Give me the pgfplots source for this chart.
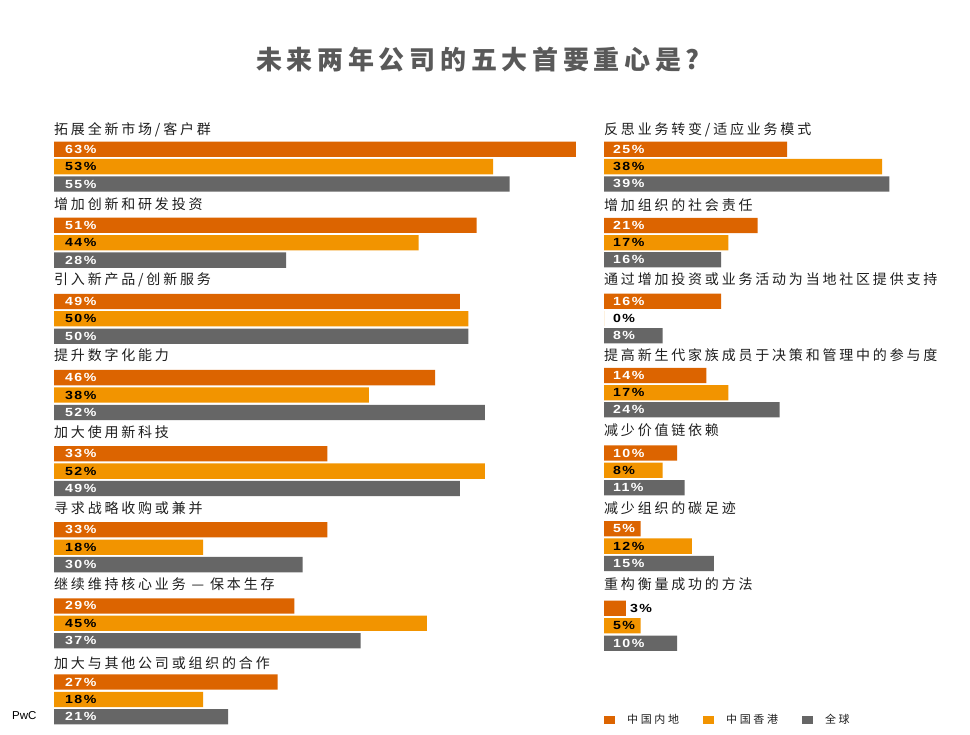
\documentclass[border=0pt]{standalone}
\usepackage{fontspec}
\usepackage{pgfplots}
\usepackage{pgfplotstable}
\pgfplotsset{compat=1.18}
\setmainfont{Liberation Sans}
\newfontfamily\cjk[LetterSpace=20]{Noto Sans CJK SC}
\newfontfamily\cjklegend[LetterSpace=24]{Noto Sans CJK SC}
\newfontfamily\cjktitle[LetterSpace=18]{Noto Sans CJK SC}
\newfontfamily\pct[FakeStretch=1.2,LetterSpace=12]{Liberation Sans}

\definecolor{cMain}{RGB}{220,100,0}
\definecolor{cHK}{RGB}{242,148,0}
\definecolor{cGlobal}{RGB}{102,102,102}
\definecolor{cTitle}{RGB}{89,89,89}
\definecolor{cText}{RGB}{30,30,30}

% value, bar centre (pixel row)
\pgfplotstableread{
v y
63 149.2
51 225.3
49 301.4
46 377.6
33 453.7
33 529.8
29 605.9
27 682.0
}\LeftMain
\pgfplotstableread{
v y
53 166.6
44 242.7
50 318.8
38 395.0
52 471.1
18 547.2
45 623.3
18 699.4
}\LeftHK
\pgfplotstableread{
v y
55 184.0
28 260.1
50 336.2
52 412.4
49 488.5
30 564.6
37 640.7
21 716.8
}\LeftGlobal
\pgfplotstableread{
v y
25 149.2
21 225.5
16 301.2
14 375.5
10 453.0
5 528.8
3 608.3
}\RightMain
\pgfplotstableread{
v y
38 166.6
17 242.8
0 318.5
17 392.8
8 470.3
12 546.1
5 625.8
}\RightHK
\pgfplotstableread{
v y
39 183.9
16 259.8
8 335.8
24 409.8
11 487.7
15 563.4
10 643.2
}\RightGlobal

\pgfplotsset{
  panel/.style={scale only axis, hide axis, clip=false, y dir=reverse,
    ymin=100, ymax=735, height=635bp, xmin=0, anchor=north west},
  sqlegend/.style={legend image code/.code={\fill[##1] (0bp,-4bp) rectangle (11bp,4bp);}},
  hbar/.style={xbar, bar width=15.3bp, bar shift=0pt, draw=none, fill=#1, sqlegend},
  vlabel/.style 2 args={forget plot, draw=none, mark=none, point meta=explicit,
    nodes near coords={\pct\bfseries\fontsize{11.8bp}{12bp}\selectfont\pgfmathprintnumber[assume math mode=true]{\pgfplotspointmeta}\%},
    nodes near coords style={anchor=west, inner sep=0pt, xshift=#1, text=#2}},
}
\tikzset{gtitle/.style={anchor=west, inner sep=0pt, text=cText, font=\cjk\fontsize{14bp}{16bp}\selectfont}}

\begin{document}
\begin{tikzpicture}
\path[use as bounding box, fill=white] (0bp,0bp) rectangle (970bp,-735bp);
\node[font=\cjktitle\bfseries\fontsize{26bp}{30bp}\selectfont, text=cTitle] at (478bp,-60bp) {未来两年公司的五大首要重心是?};
\node[anchor=west, inner sep=0pt, font=\fontsize{11.5bp}{13bp}\selectfont] at (12bp,-716bp) {PwC};

% left panel
\begin{axis}[panel, at={(54bp,-100bp)}, xmax=70, width=580bp]
\addplot[hbar=cMain] table[x=v, y=y] {\LeftMain};
\addplot[hbar=cHK] table[x=v, y=y] {\LeftHK};
\addplot[hbar=cGlobal] table[x=v, y=y] {\LeftGlobal};
\addplot[vlabel={11bp}{white}] table[x expr=0, y=y, meta=v] {\LeftMain};
\addplot[vlabel={11bp}{black}] table[x expr=0, y=y, meta=v] {\LeftHK};
\addplot[vlabel={11bp}{white}] table[x expr=0, y=y, meta=v] {\LeftGlobal};
\node[gtitle] at (axis cs:0,130) {拓展全新市场/客户群};
\node[gtitle] at (axis cs:0,204.3) {增加创新和研发投资};
\node[gtitle] at (axis cs:0,280) {引入新产品/创新服务};
\node[gtitle] at (axis cs:0,355) {提升数字化能力};
\node[gtitle] at (axis cs:0,432) {加大使用新科技};
\node[gtitle] at (axis cs:0,508) {寻求战略收购或兼并};
\node[gtitle] at (axis cs:0,584) {继续维持核心业务 — 保本生存};
\node[gtitle] at (axis cs:0,663.3) {加大与其他公司或组织的合作};
\end{axis}

% right panel
\begin{axis}[panel, at={(604bp,-100bp)}, xmax=45, width=329.4bp,
  legend columns=3,
  legend style={at={(0,0.0236)}, anchor=west, draw=none, fill=none, inner sep=0pt,
    font=\cjklegend\fontsize{11bp}{13bp}\selectfont, text=cText,
    nodes={inner xsep=6bp},
    /tikz/every odd column/.append style={column sep=6bp},
    /tikz/every even column/.append style={column sep=18bp}},
  legend cell align=left]
\addplot[hbar=cMain] table[x=v, y=y] {\RightMain};
\addlegendentry{中国内地}
\addplot[hbar=cHK] table[x=v, y=y] {\RightHK};
\addlegendentry{中国香港}
\addplot[hbar=cGlobal] table[x=v, y=y] {\RightGlobal};
\addlegendentry{全球}
\addplot[vlabel={9bp}{white}, skip coords between index={6}{7}] table[x expr=0, y=y, meta=v] {\RightMain};
\addplot[vlabel={4bp}{black}, skip coords between index={0}{6}] table[x=v, y=y, meta=v] {\RightMain};
\addplot[vlabel={9bp}{black}] table[x expr=0, y=y, meta=v] {\RightHK};
\addplot[vlabel={9bp}{white}] table[x expr=0, y=y, meta=v] {\RightGlobal};
\node[gtitle] at (axis cs:0,130) {反思业务转变/适应业务模式};
\node[gtitle] at (axis cs:0,205) {增加组织的社会责任};
\node[gtitle] at (axis cs:0,279.3) {通过增加投资或业务活动为当地社区提供支持};
\node[gtitle] at (axis cs:0,355) {提高新生代家族成员于决策和管理中的参与度};
\node[gtitle] at (axis cs:0,430) {减少价值链依赖};
\node[gtitle] at (axis cs:0,507.7) {减少组织的碳足迹};
\node[gtitle] at (axis cs:0,584) {重构衡量成功的方法};
\end{axis}
\end{tikzpicture}
\end{document}
